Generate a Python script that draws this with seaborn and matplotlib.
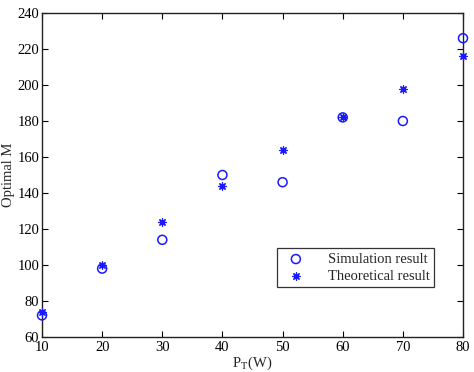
import matplotlib
matplotlib.use("Agg")
import matplotlib.pyplot as plt
import seaborn as sns
import pandas as pd

power = [10, 20, 30, 40, 50, 60, 70, 80]
simulation = [72, 98, 114, 150, 146, 182, 180, 226]
theoretical = [74, 100, 124, 144, 164, 182, 198, 216]
xticks = [10, 20, 30, 40, 50, 60, 70, 80]
yticks = [60, 80, 100, 120, 140, 160, 180, 200, 220, 240]

sns.set_style("ticks")
plt.rcParams['font.family'] = ['Liberation Serif', 'DejaVu Serif']
plt.rcParams['mathtext.fontset'] = 'stix'

fig = plt.figure(figsize=(4.74, 3.72), dpi=100)
ax = fig.add_axes([42/474, 1 - 337/372, 421/474, 324/372])

df_sim = pd.DataFrame({"P": power, "M": simulation})
df_th = pd.DataFrame({"P": power, "M": theoretical})

blue = "#1a1aff"
sns.scatterplot(data=df_sim, x="P", y="M", ax=ax, marker="o", s=42,
                facecolors="none", edgecolor=blue, linewidth=1.1,
                label="Simulation result", clip_on=False, zorder=3)
sns.scatterplot(data=df_th, x="P", y="M", ax=ax, marker=(8, 2, 0), s=28,
                color=blue, edgecolor=blue, linewidth=0.9,
                label="Theoretical result", clip_on=False, zorder=3)

ax.set_xlim(10, 80)
ax.set_ylim(60, 240)
ax.set_xticks(xticks)
ax.set_yticks(yticks)
ax.tick_params(direction="in", length=4, width=0.8, labelsize=10.5,
               top=True, right=True, colors="black")
ax.tick_params(axis="x", pad=3)
ax.tick_params(axis="y", pad=2)
for sp in ax.spines.values():
    sp.set_linewidth(1.0)
    sp.set_color("#222222")
ax.set_xlabel(r"P$_\mathrm{T}$(W)", fontsize=10.5, labelpad=0)
ax.set_ylabel("Optimal M", fontsize=10.5, labelpad=2)

leg = ax.legend(loc="lower left", bbox_to_anchor=(0.558, 0.154, 0.373, 0.13),
                mode="expand", frameon=True, fancybox=False, fontsize=10.5,
                borderpad=0.3, handletextpad=1.2, labelspacing=0.25, borderaxespad=0)
leg.get_frame().set_edgecolor("black")
leg.get_frame().set_linewidth(0.9)

fig.savefig("out.png", dpi=100)
